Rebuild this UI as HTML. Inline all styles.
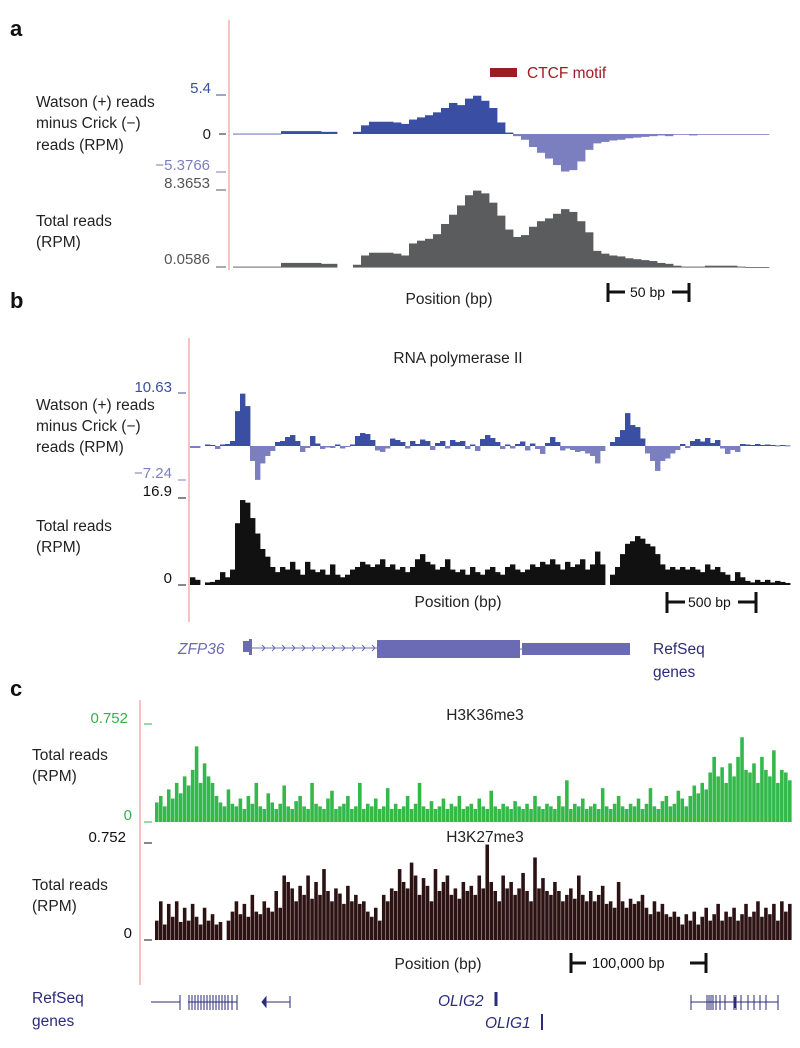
<!DOCTYPE html>
<html><head><meta charset="utf-8"><style>
html,body{margin:0;padding:0;background:#fff}
svg{display:block;font-family:"Liberation Sans",Arial,sans-serif}
.lab{font-size:15.5px;fill:#222}
.pl{font-size:22px;font-weight:bold;fill:#111}
</style></head><body>
<svg id="fig" width="800" height="1048" viewBox="0 0 800 1048" xmlns="http://www.w3.org/2000/svg">
<!-- Panel a -->
<g>
<text class="pl" x="10" y="36">a</text>
<line x1="229" y1="20" x2="229" y2="270" stroke="#f0a0a0" stroke-width="1.3"/>
<rect x="490" y="68" width="27" height="9" fill="#9b1c22"/>
<text x="527" y="78" font-size="15.5" fill="#9b1c22">CTCF motif</text>
<text class="lab" x="36" y="107">Watson (+) reads</text>
<text class="lab" x="36" y="128">minus Crick (−)</text>
<text class="lab" x="36" y="150">reads (RPM)</text>
<text class="lab" x="36" y="226">Total reads</text>
<text class="lab" x="36" y="247">(RPM)</text>
<text x="211" y="93" font-size="15" fill="#3a4fa3" text-anchor="end">5.4</text>
<line x1="216" y1="95" x2="226" y2="95" stroke="#3a4fa3"/>
<text x="211" y="139" font-size="15" fill="#222" text-anchor="end">0</text>
<line x1="219" y1="134" x2="226" y2="134" stroke="#222"/>
<text x="210" y="170" font-size="15" fill="#7b7fc0" text-anchor="end">−5.3766</text>
<line x1="216" y1="172" x2="226" y2="172" stroke="#7b7fc0"/>
<text x="210" y="188" font-size="15" fill="#555" text-anchor="end">8.3653</text>
<line x1="216" y1="190" x2="226" y2="190" stroke="#555"/>
<text x="210" y="264" font-size="15" fill="#555" text-anchor="end">0.0586</text>
<line x1="216" y1="267" x2="226" y2="267" stroke="#555"/>
<g id="aW"></g>
<g id="aT"></g>
<text class="lab" x="449" y="304" text-anchor="middle">Position (bp)</text>
<g stroke="#111" stroke-width="3">
<line x1="608" y1="283" x2="608" y2="302"/><line x1="608" y1="292" x2="625" y2="292"/>
<line x1="672" y1="292" x2="689" y2="292"/><line x1="689" y1="283" x2="689" y2="302"/></g>
<text x="630" y="297" font-size="14" fill="#111">50 bp</text>
</g>
<!-- Panel b -->
<g>
<text class="pl" x="10" y="308">b</text>
<line x1="189" y1="338" x2="189" y2="622" stroke="#f0a0a0" stroke-width="1.3"/>
<text class="lab" x="458" y="363" text-anchor="middle">RNA polymerase II</text>
<text class="lab" x="36" y="410">Watson (+) reads</text>
<text class="lab" x="36" y="431">minus Crick (−)</text>
<text class="lab" x="36" y="452">reads (RPM)</text>
<text class="lab" x="36" y="531">Total reads</text>
<text class="lab" x="36" y="552">(RPM)</text>
<text x="172" y="392" font-size="15" fill="#3a4fa3" text-anchor="end">10.63</text>
<line x1="178" y1="393" x2="186" y2="393" stroke="#3a4fa3"/>
<text x="172" y="478" font-size="15" fill="#7b7fc0" text-anchor="end">−7.24</text>
<line x1="178" y1="480" x2="186" y2="480" stroke="#7b7fc0"/>
<text x="172" y="496" font-size="15" fill="#111" text-anchor="end">16.9</text>
<line x1="178" y1="498" x2="186" y2="498" stroke="#111"/>
<text x="172" y="583" font-size="15" fill="#111" text-anchor="end">0</text>
<line x1="178" y1="585" x2="186" y2="585" stroke="#111"/>
<g id="bW"></g>
<g id="bT"></g>
<text class="lab" x="458" y="607" text-anchor="middle">Position (bp)</text>
<g stroke="#111" stroke-width="3">
<line x1="667" y1="592" x2="667" y2="613"/><line x1="667" y1="602" x2="685" y2="602"/>
<line x1="738" y1="602" x2="756" y2="602"/><line x1="756" y1="592" x2="756" y2="613"/></g>
<text x="688" y="607" font-size="14" fill="#111">500 bp</text>
<g fill="#6b6bb5" stroke="#6b6bb5">
<text x="178" y="654" font-size="15.5" font-style="italic" stroke="none">ZFP36</text>
<rect x="243" y="641" width="8" height="11" stroke="none"/><rect x="249" y="639" width="3" height="16" stroke="none"/>
<line x1="252" y1="648" x2="377" y2="648" stroke-width="1"/>
<path d="M262 645l3 3-3 3M272 645l3 3-3 3M282 645l3 3-3 3M292 645l3 3-3 3M302 645l3 3-3 3M312 645l3 3-3 3M322 645l3 3-3 3M332 645l3 3-3 3M342 645l3 3-3 3M352 645l3 3-3 3M362 645l3 3-3 3M372 645l3 3-3 3" fill="none" stroke-width="1"/>
<rect x="377" y="640" width="143" height="18" stroke="none"/>
<line x1="520" y1="649" x2="522" y2="649"/>
<rect x="522" y="643" width="108" height="12" stroke="none"/>
</g>
<text x="653" y="654" font-size="15.5" fill="#2b2b7a">RefSeq</text>
<text x="653" y="677" font-size="15.5" fill="#2b2b7a">genes</text>
</g>
<!-- Panel c -->
<g>
<text class="pl" x="10" y="696">c</text>
<line x1="140" y1="700" x2="140" y2="985" stroke="#f0a0a0" stroke-width="1.3"/>
<text class="lab" x="485" y="720" text-anchor="middle">H3K36me3</text>
<text class="lab" x="485" y="842" text-anchor="middle">H3K27me3</text>
<text x="128" y="723" font-size="15" fill="#33b04a" text-anchor="end">0.752</text>
<line x1="144" y1="724" x2="152" y2="724" stroke="#33b04a"/>
<text x="132" y="820" font-size="15" fill="#33b04a" text-anchor="end">0</text>
<line x1="144" y1="822" x2="152" y2="822" stroke="#33b04a"/>
<text x="126" y="842" font-size="15" fill="#111" text-anchor="end">0.752</text>
<line x1="144" y1="843" x2="152" y2="843" stroke="#111"/>
<text x="132" y="938" font-size="15" fill="#111" text-anchor="end">0</text>
<line x1="144" y1="940" x2="152" y2="940" stroke="#111"/>
<text class="lab" x="32" y="760">Total reads</text>
<text class="lab" x="32" y="781">(RPM)</text>
<text class="lab" x="32" y="890">Total reads</text>
<text class="lab" x="32" y="911">(RPM)</text>
<g id="cG"></g>
<g id="cB"></g>
<text class="lab" x="438" y="969" text-anchor="middle">Position (bp)</text>
<g stroke="#111" stroke-width="3">
<line x1="571" y1="953" x2="571" y2="973"/><line x1="571" y1="963" x2="586" y2="963"/>
<line x1="690" y1="963" x2="706" y2="963"/><line x1="706" y1="953" x2="706" y2="973"/></g>
<text x="592" y="968" font-size="14.5" fill="#111">100,000 bp</text>
<text x="32" y="1003" font-size="15.5" fill="#2b2b7a">RefSeq</text>
<text x="32" y="1026" font-size="15.5" fill="#2b2b7a">genes</text>
<g stroke="#2b2b7a" fill="none">
<line x1="151" y1="1002" x2="180" y2="1002"/><line x1="180" y1="995" x2="180" y2="1010"/>
<line x1="188" y1="1002" x2="237" y2="1002"/>
<path d="M189 995v15M192 995v15M195 995v15M198 995v15M201 995v15M204 995v15M207 995v15M210 995v15M213 995v15M216 995v15M219 995v15M222 995v15M225 995v15M228 995v15M232 995v15M237 995v15"/>
<line x1="262" y1="1002" x2="290" y2="1002"/><path d="M262 1002l4-5v10z" fill="#2b2b7a"/><line x1="290" y1="996" x2="290" y2="1008"/>
<line x1="496" y1="992" x2="496" y2="1006" stroke-width="3"/>
<line x1="542" y1="1014" x2="542" y2="1030" stroke-width="2"/>
<line x1="691" y1="1002" x2="778" y2="1002"/>
<path d="M691 995v15M707 995v15M709 995v15M711 995v15M713 995v15M716 995v15M720 995v15M725 995v15M734 995v15M736 995v15M741 995v15M748 995v15M754 995v15M760 995v15M766 995v15M778 995v15"/>
<line x1="735" y1="997" x2="735" y2="1008" stroke-width="3"/>
</g>
<text x="438" y="1006" font-size="15.5" font-style="italic" fill="#2b2b7a">OLIG2</text>
<text x="485" y="1028" font-size="15.5" font-style="italic" fill="#2b2b7a">OLIG1</text>
</g>
</svg>
<script>
// Panel a data (bins across the window; null = gap)
const aWatson = [0.05,0.05,0.05,0.05,0.05,0.05,0.4,0.4,0.4,0.4,0.4,0.3,0.3,null,null,0.3,1.2,1.7,1.7,1.7,1.6,1.4,2.0,2.3,2.6,3.0,3.6,4.3,4.0,4.9,5.3,4.6,3.6,1.6,0.2,-0.3,-0.8,-1.8,-2.6,-3.4,-4.3,-5.2,-5.0,-3.8,-2.2,-1.3,-1.1,-0.9,-0.8,-0.6,-0.5,-0.4,-0.3,-0.2,-0.3,-0.1,-0.1,-0.2,-0.1,-0.1,-0.1,-0.1,-0.1,-0.1,-0.1,-0.1,-0.1];
const aTotal = [0.1,0.1,0.1,0.1,0.1,0.1,0.5,0.5,0.5,0.5,0.5,0.4,0.4,null,null,0.3,1.3,1.6,1.6,1.6,1.5,1.3,2.6,2.9,3.1,3.6,4.7,5.7,6.7,7.8,8.3,8.0,7.0,5.6,4.1,3.3,3.5,4.4,5.0,5.3,5.8,6.3,6.0,5.0,3.8,1.8,1.5,1.3,1.2,1.0,0.9,0.8,0.7,0.5,0.4,0.2,0.1,0.1,0.1,0.2,0.2,0.2,0.2,0.1,0.05,0.05,0.05];
// Panel b data
const bWatson = [-0.4,-0.4,null,0.3,0.2,-0.6,0.3,0.4,1.0,7,10.5,8,-3,-6.8,-3.5,-2,-1,0.8,1.0,1.8,2.2,1.0,-1.2,-0.4,2.0,0.5,-0.6,-0.3,-0.4,0.3,-0.5,-0.2,0.3,2.0,2.6,2.4,1.2,-0.9,-1.2,-0.5,1.5,1.2,0.8,-0.5,1.0,0.4,1.3,1.0,-0.8,0.6,1.0,-0.5,1.2,0.8,1.0,-0.6,0.3,-1.0,1.4,2.2,1.6,0.8,-0.6,0.3,-0.5,0.4,0.9,-0.9,0.5,-0.6,-1.6,0.6,1.8,0.8,-0.9,-0.5,-0.8,-1.2,-1.0,-1.5,-2.0,-3.5,-1.0,null,0.8,1.8,3.2,6.6,4.2,3.8,1.5,-1.5,-3.0,-5.0,-3.0,-2.5,-1.5,-0.8,0.4,-0.4,1.0,1.4,0.9,1.6,0.6,1.2,-0.5,-1.6,-0.8,-1.2,0.4,0.3,0.2,0.4,0.2,0.3,0.2,0.1,0.2,0.1];
const bTotal = [1.5,1.0,null,0.5,0.6,1.0,2.5,1.5,3,12,16.5,16,13,10,7,5.5,3.5,2.5,3.5,3,4.5,3,2,4.5,3,2.5,3,2,4,2,1.5,2,3,3.5,4.5,4,3.5,4,5,3.5,4,3,3.5,2.5,3.5,5,6,4.5,4,3,3.5,5,3,2.5,3,2,3.5,2.5,2,3,3.5,2.5,2,3.5,4,3,2.5,3,4,3.5,4.5,4,5,4,3,4.5,3.5,4,5,3,4,6.5,4,null,2,3.5,6,8,8.5,9.5,9,8,7.5,6,4,3,3.5,3,3.5,3,3.5,3,2.5,4,3,3.5,2.5,2,0.8,2.5,1.5,0.8,0.5,1,0.6,1,0.5,0.8,0.6,0.4];
// Panel c data
const cGreen = [.15,.2,.12,.25,.18,.3,.22,.35,.28,.4,.58,.3,.45,.35,.3,.2,.15,.12,.25,.14,
.12,.18,.1,.2,.14,.3,.12,.1,.22,.15,.1,.14,.28,.12,.1,.16,.2,.12,.1,.3,
.14,.12,.1,.18,.24,.1,.12,.14,.2,.1,.12,.3,.1,.14,.12,.18,.1,.12,.26,.1,
.14,.1,.12,.2,.1,.14,.3,.12,.1,.16,.1,.12,.18,.1,.14,.12,.2,.1,.12,.14,
.1,.18,.12,.1,.24,.12,.1,.14,.12,.1,.16,.12,.1,.14,.1,.2,.12,.1,.14,.12,
.1,.2,.12,.32,.1,.14,.12,.18,.1,.12,.14,.1,.26,.12,.1,.14,.2,.12,.1,.14,
.12,.18,.1,.14,.26,.12,.1,.16,.2,.12,.14,.24,.18,.12,.2,.28,.22,.3,.25,.38,
.5,.35,.42,.3,.45,.35,.5,.65,.4,.38,.45,.3,.5,.4,.35,.55,.3,.4,.38,.32];
const cBrown = [.15,.3,.12,.28,.18,.3,.14,.25,.15,.28,.18,.12,.25,.15,.2,.12,.14,null,
.15,.22,.3,.2,.28,.18,.35,.22,.2,.3,.25,.22,
.38,.25,.5,.45,.4,.3,.42,.35,.5,.32,.45,.35,.55,.38,.3,.4,.36,.28,.42,.3,
.35,.28,.3,.22,.18,.25,.15,.35,.3,.4,.38,.55,.45,.4,.6,.5,.35,.48,.42,.3,
.55,.38,.45,.5,.35,.4,.32,.45,.38,.42,.35,.5,.4,.74,.45,.38,.3,.5,.4,.45,
.35,.4,.52,.38,.3,.64,.4,.48,.38,.35,.45,.38,.3,.35,.4,.32,.5,.35,.3,.38,
.3,.35,.42,.28,.3,.25,.45,.3,.25,.32,.28,.3,.35,.25,.2,.3,.22,.28,.2,.18,
.22,.18,.12,.2,.15,.22,.12,.18,.25,.15,.2,.28,.15,.22,.18,.25,.15,.2,.28,.18,
.22,.3,.18,.25,.2,.28,.15,.3,.22,.28];

const NS='http://www.w3.org/2000/svg';
function xScaleFor(x0,x1,n){const s=(x1-x0)/n;return i=>x0+i*s;}
function yScaleFor(v0,y0,v1,y1){return v=>y0+(v-v0)*(y1-y0)/(v1-v0);}
function drawBars(gid,data,x0,x1,yS,posCol,negCol,gap,nameBase){
  const g=document.getElementById(gid);const xs=xScaleFor(x0,x1,data.length);
  const w=(x1-x0)/data.length;const y0=yS(0);
  data.forEach((v,i)=>{if(v===null)return;
    const r=document.createElementNS(NS,'rect');const y=yS(v);
    r.setAttribute('x',xs(i));r.setAttribute('width',Math.max(0.6,w+0.4-gap));
    r.setAttribute('y',Math.min(y,y0));r.setAttribute('height',Math.max(0.8,Math.abs(y0-y)));
    r.setAttribute('fill',v>=0?posCol:negCol);
    
    
    g.appendChild(r);});
}
drawBars('aW',aWatson,233,769,yScaleFor(0,134,5.4,95),'#3a4fa3','#7b7fc0',0,'a-watson-bar');
drawBars('aT',aTotal,233,769,yScaleFor(0.0586,267,8.3653,190),'#5b5c5e','#5b5c5e',0,'a-total-bar');
drawBars('bW',bWatson,190,790,yScaleFor(0,446,10.63,393),'#3a4fa3','#7b7fc0',0,'b-watson-bar');
drawBars('bT',bTotal,190,790,yScaleFor(0,585,16.9,498),'#111','#111',0,'b-total-bar');
drawBars('cG',cGreen,155,792,yScaleFor(0,822,0.752,724),'#33b84a','#33b84a',0.8,'h3k36me3-bar');
drawBars('cB',cBrown,155,792,yScaleFor(0,940,0.752,843),'#2d1214','#2d1214',0.8,'h3k27me3-bar');
</script>
</body></html>
